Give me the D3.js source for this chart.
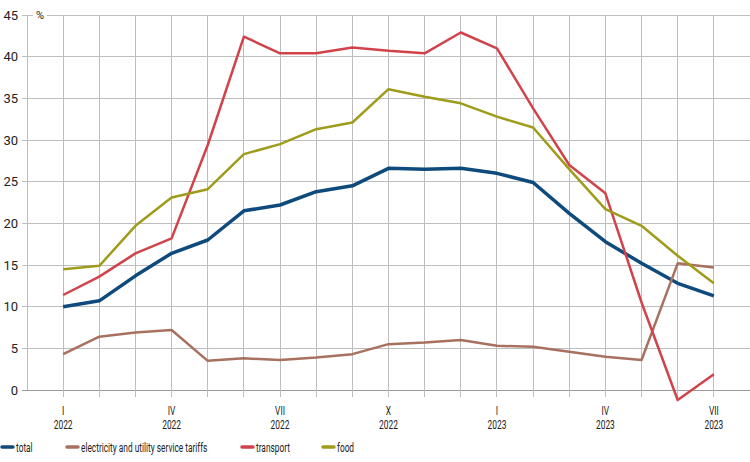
<!DOCTYPE html>
<html lang="en">
<head>
  <meta charset="UTF-8">
  <title>Inflation by component</title>
  <script src="https://d3js.org/d3.v7.min.js"></script>
  <style>
    body { margin: 0; background: #fff; font-family: Roboto, sans-serif; }
    svg { display: block; }
  </style>
</head>
<body>
  <svg width="750" height="462"></svg>

  <script>
    const months = ["I","II","III","IV","V","VI","VII","VIII","IX","X","XI","XII",
                    "I","II","III","IV","V","VI","VII"];
    const years = ["2022","2022","2022","2022","2022","2022","2022","2022","2022","2022","2022","2022",
                   "2023","2023","2023","2023","2023","2023","2023"];
    const yTicks = [0, 5, 10, 15, 20, 25, 30, 35, 40, 45];

    const total       = [10.0, 10.7, 13.7, 16.4, 18.0, 21.5, 22.2, 23.8, 24.5, 26.6, 26.5, 26.6, 26.0, 24.9, 21.2, 17.8, 15.2, 12.8, 11.3];
    const electricity = [4.3, 6.4, 6.9, 7.2, 3.5, 3.8, 3.6, 3.9, 4.3, 5.5, 5.7, 6.0, 5.3, 5.2, 4.6, 4.0, 3.6, 15.2, 14.7];
    const transport   = [11.4, 13.6, 16.4, 18.2, 29.4, 42.4, 40.4, 40.4, 41.1, 40.7, 40.4, 42.9, 41.0, 33.8, 27.0, 23.6, 10.5, -1.2, 1.9];
    const food        = [14.5, 14.9, 19.7, 23.1, 24.1, 28.3, 29.5, 31.3, 32.1, 36.1, 35.2, 34.4, 32.8, 31.5, 26.5, 21.7, 19.7, 16.1, 12.8];

    const series = [
      { name: "total", values: total, color: "#0e4a7b", width: 3.5 },
      { name: "electricity and utility service tariffs", values: electricity, color: "#a8715f", width: 2.5 },
      { name: "transport", values: transport, color: "#d1434b", width: 2.5 },
      { name: "food", values: food, color: "#9f9b1b", width: 2.5 }
    ];

    const svg = d3.select("svg");
    const plotLeft = 27, plotRight = 750, plotTop = 15, plotBottom = 390;

    const x = d3.scaleLinear().domain([-1, months.length]).range([plotLeft, plotRight]);
    const y = d3.scaleLinear().domain([0, 45]).range([plotBottom, plotTop]);

    // grid
    const grid = svg.append("g").attr("shape-rendering", "crispEdges");
    grid.selectAll(".h")
      .data(yTicks)
      .enter().append("line")
      .attr("x1", plotLeft - 5).attr("x2", plotRight)
      .attr("y1", d => y(d)).attr("y2", d => y(d))
      .attr("stroke", d => d === 0 ? "#9a9a9a" : "#bdbdbd");
    grid.selectAll(".v")
      .data(d3.range(-1, months.length + 1))
      .enter().append("line")
      .attr("x1", d => x(d)).attr("x2", d => x(d))
      .attr("y1", plotTop).attr("y2", d => d === -1 ? plotBottom : plotBottom + 7)
      .attr("stroke", "#bdbdbd");

    // y labels
    svg.append("g").selectAll("text")
      .data(yTicks)
      .enter().append("text")
      .attr("x", plotLeft - 9)
      .attr("y", d => y(d) + 4.5)
      .attr("text-anchor", "end")
      .attr("font-size", "13px")
      .attr("fill", "#222")
      .text(d => d);

    // % label
    svg.append("rect").attr("x", 33).attr("y", plotTop - 6).attr("width", 14).attr("height", 12).attr("fill", "#fff");
    svg.append("text").attr("x", 40).attr("y", plotTop + 4).attr("text-anchor", "middle")
      .attr("font-size", "11px").attr("fill", "#222").text("%");

    // x labels
    const shown = d3.range(0, months.length, 3);
    const xl = svg.append("g").selectAll("g")
      .data(shown)
      .enter().append("g")
      .attr("transform", d => `translate(${x(d)},0) scale(0.7,1)`);
    xl.append("text")
      .attr("y", 415).attr("text-anchor", "middle")
      .attr("font-size", "12px").attr("fill", "#222")
      .text(d => months[d]);
    xl.append("text")
      .attr("y", 429).attr("text-anchor", "middle")
      .attr("font-size", "12px").attr("fill", "#222")
      .text(d => years[d]);

    // lines
    const line = d3.line()
      .x((d, i) => x(i))
      .y(d => y(d));

    svg.append("g").selectAll("path")
      .data(series)
      .enter().append("path")
      .attr("d", d => line(d.values))
      .attr("fill", "none")
      .attr("stroke", d => d.color)
      .attr("stroke-width", d => d.width)
      .attr("stroke-linejoin", "round");

    // legend
    const legendX = [2, 67, 242, 323];
    const lg = svg.append("g").selectAll("g")
      .data(series)
      .enter().append("g")
      .attr("transform", (d, i) => `translate(${legendX[i]},447)`);
    lg.append("line")
      .attr("x1", 0).attr("x2", 11)
      .attr("stroke", d => d.color)
      .attr("stroke-width", 3.5)
      .attr("stroke-linecap", "round");
    lg.append("text")
      .attr("transform", "translate(14,0) scale(0.64,1)")
      .attr("y", 4.5)
      .attr("font-size", "13px")
      .attr("fill", "#222")
      .text(d => d.name);
  </script>
</body>
</html>
